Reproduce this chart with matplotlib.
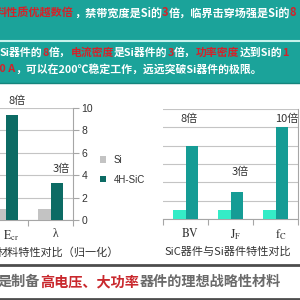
import matplotlib
matplotlib.use("Agg")
import matplotlib.pyplot as plt
import matplotlib.transforms as mtransforms
from matplotlib.patches import Rectangle
import numpy as np

plt.rcParams['font.family'] = ['Noto Sans CJK SC', 'DejaVu Sans']
plt.rcParams['mathtext.fontset'] = 'stix'

# ---------------- data ----------------
left_categories = [r'$\mathrm{E_{cr}}$', 'λ']
left_si = [1.0, 1.0]
left_sic = [9.4, 3.3]
left_notes = ['8倍', '3倍']
left_note_pos = [(0.25, 10.6), (1.23, 4.55)]
left_yticks = [0, 2, 4, 6, 8, 10]

right_categories = [r'$\mathrm{BV}$', r'$\mathrm{J_F}$', r'$\mathrm{f_C}$']
right_si = [1.0, 1.0, 1.0]
right_sic = [8.0, 3.0, 10.0]
right_notes = ['8倍', '3倍', '10倍']
right_note_pos = [(0.07, 10.9), (1.21, 5.1), (2.24, 10.9)]
right_yticks = [0, 2, 4, 6, 8, 10, 12]

legend_labels = ['Si', '4H-SiC']

left_caption = '材料特性对比（归一化）'
right_caption = 'SiC器件与Si器件特性对比'

RED_TOP = '#d2232a'
WHITE = '#ffffff'
line1 = [('料性质优越数倍', RED_TOP), ('，禁带宽度是Si的', WHITE), ('3', RED_TOP),
         ('倍，临界击穿场强是Si的', WHITE), ('8', RED_TOP)]
line2 = [('Si器件的', WHITE), ('8', RED_TOP), ('倍，', WHITE), ('电流密度', RED_TOP),
         ('是Si器件的', WHITE), ('3', RED_TOP), ('倍，', WHITE), ('功率密度', RED_TOP),
         ('达到Si的', WHITE), ('1', RED_TOP)]
line3 = [('00 A', RED_TOP), ('，可以在200℃稳定工作，远远突破Si器件的极限。', WHITE)]
bottom_line = [('是制备', '#6a6a6a'), ('高电压、大功率', '#c9282d'), ('器件的理想战略性材料', '#6a6a6a')]

# ---------------- figure ----------------
fig = plt.figure(figsize=(3, 3), dpi=100)
fig.patch.set_facecolor('white')

bg = fig.add_axes([0, 0, 1, 1], zorder=0)
bg.set_xlim(0, 300)
bg.set_ylim(300, 0)
bg.axis('off')

TEAL_BAND = '#1ba39a'
bg.add_patch(Rectangle((0, 0), 300, 83, facecolor=TEAL_BAND, edgecolor='none'))
bg.plot([0, 300], [40.5, 40.5], color='#c6f2ec', lw=1.5)
bg.plot([0, 300], [83, 83], color='#15847c', lw=1.0)

renderer = fig.canvas.get_renderer()


def seq_text(x, y, segs, **kw):
    for s, c in segs:
        t = bg.text(x, y, s, color=c, ha='left', va='center', **kw)
        bb = t.get_window_extent(renderer=renderer)
        x += bb.width


seq_text(-4, 13, line1, fontsize=8.0, fontweight='bold')
seq_text(0, 53, line2, fontsize=7.8, fontweight='bold')
seq_text(-7, 69, line3, fontsize=7.8, fontweight='bold')

# bottom band
bg.plot([0, 300], [264.5, 264.5], color='#4d4d4d', lw=2.0)
bg.plot([0, 300], [298.5, 298.5], color='#4d4d4d', lw=2.0)
seq_text(-2, 282, bottom_line, fontsize=10.2, fontweight='bold')

# captions
bg.text(-3, 252, left_caption, fontsize=8, color='#333333', ha='left', va='center')
bg.text(228, 252, right_caption, fontsize=8, color='#333333', ha='center', va='center')

GRID = '#c4c4c4'
SPINE = '#a6a6a6'
offset = mtransforms.ScaledTranslation(0.05, 0, fig.dpi_scale_trans)

# ---------------- left chart ----------------
ax1 = fig.add_axes([-17 / 300, 80 / 300, 90 / 300, 112 / 300], zorder=1)
ax1.patch.set_alpha(0)
x1 = np.arange(len(left_categories))
w = 0.28
b_si = ax1.bar(x1 - w / 2, left_si, w, color='#c3c3c3', label=legend_labels[0], zorder=3)
b_sic = ax1.bar(x1 + w / 2, left_sic, w, color='#0c6b64', label=legend_labels[1], zorder=3)
ax1.set_xlim(-0.5, len(left_categories) - 0.5)
ax1.set_ylim(0, 10)
ax1.set_yticks(left_yticks)
ax1.yaxis.tick_right()
ax1.tick_params(axis='y', direction='out', length=4, color=SPINE, labelsize=7.5,
                labelcolor='#333333', pad=2)
for lab in ax1.get_yticklabels():
    lab.set_fontfamily('Liberation Sans')
ax1.grid(axis='y', color=GRID, lw=0.8, zorder=0)
ax1.set_xticks(np.arange(len(left_categories) + 1) - 0.5)
ax1.set_xticklabels([])
ax1.set_xticks(x1, minor=True)
ax1.set_xticklabels(left_categories, minor=True, fontsize=8.5, color='#333333')
ax1.tick_params(axis='x', which='major', direction='out', length=4, color=SPINE)
ax1.tick_params(axis='x', which='minor', length=0, pad=6)
for lab in ax1.get_xticklabels(minor=True):
    lab.set_fontfamily(['Liberation Serif', 'DejaVu Serif'])
    lab.set_transform(lab.get_transform() + offset)
for s in ['left', 'top']:
    ax1.spines[s].set_visible(False)
for s in ['right', 'bottom']:
    ax1.spines[s].set_color(SPINE)
for note, (xx, yy) in zip(left_notes, left_note_pos):
    ax1.text(xx, yy, note, ha='center', va='center', fontsize=8, color='#333333', clip_on=False)

leg = fig.legend(handles=[b_si, b_sic], loc='upper left', bbox_to_anchor=(100 / 300, 1 - 155 / 300),
                 frameon=False, fontsize=7, handlelength=0.6, handleheight=0.6,
                 handletextpad=0.8, labelspacing=1.0, borderpad=0, borderaxespad=0)
for t in leg.get_texts():
    t.set_color('#333333')
    t.set_fontfamily('Liberation Sans')

# ---------------- right chart ----------------
ax2 = fig.add_axes([163 / 300, 81 / 300, 135 / 300, 110 / 300], zorder=1)
ax2.patch.set_alpha(0)
x2 = np.arange(len(right_categories))
ax2.bar(x2 - w / 2, right_si, w, color='#34ecc7', zorder=3)
ax2.bar(x2 + w / 2, right_sic, w, color='#159c95', zorder=3)
ax2.set_xlim(-0.5, len(right_categories) - 0.5)
ax2.set_ylim(0, 12)
ax2.set_yticks(right_yticks)
ax2.tick_params(axis='y', length=0, labelleft=False)
ax2.grid(axis='y', color=GRID, lw=0.8, zorder=0)
ax2.set_xticks(np.arange(len(right_categories) + 1) - 0.5)
ax2.set_xticklabels([])
ax2.set_xticks(x2, minor=True)
ax2.set_xticklabels(right_categories, minor=True, fontsize=8.5, color='#333333')
ax2.tick_params(axis='x', which='major', direction='out', length=4, color=SPINE)
ax2.tick_params(axis='x', which='minor', length=0, pad=6)
for lab in ax2.get_xticklabels(minor=True):
    lab.set_transform(lab.get_transform() + offset)
for s in ['left', 'top']:
    ax2.spines[s].set_visible(False)
for s in ['right', 'bottom']:
    ax2.spines[s].set_color(SPINE)
for note, (xx, yy) in zip(right_notes, right_note_pos):
    ax2.text(xx, yy, note, ha='center', va='center', fontsize=8, color='#333333', clip_on=False)

fig.savefig('out.png', dpi=100)
